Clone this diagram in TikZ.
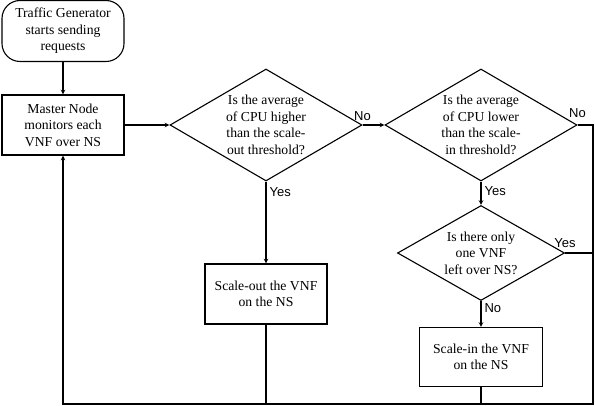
\documentclass[tikz,border=0pt]{standalone}
\usepackage{fontspec}
\setmainfont{Liberation Serif}
\newfontfamily\labelfont{Liberation Sans}
\usepackage{tikz}
\usetikzlibrary{shapes.geometric, arrows}
\tikzstyle{startstop} = [rectangle, rounded corners=18pt, minimum width=122pt, minimum height=61pt, text centered, align=center, draw=black, line width=1.1pt, font=\fontsize{13.7}{16.5}\selectfont]
\tikzstyle{process} = [rectangle, minimum width=122pt, minimum height=60pt, text centered, align=center, draw=black, line width=1.1pt, font=\fontsize{13.7}{16.5}\selectfont]
\tikzstyle{decision} = [diamond, aspect=1.71, inner sep=0pt, minimum width=192pt, minimum height=112pt, text centered, align=center, draw=black, line width=1.1pt, font=\fontsize{13.7}{16.5}\selectfont]
\tikzstyle{smalldecision} = [decision, aspect=1.76, minimum width=167pt, minimum height=95pt]
\tikzstyle{arrow} = [line width=1.1pt,->,>=stealth]
\tikzstyle{line} = [line width=1.1pt]
\tikzstyle{answer} = [font=\labelfont\fontsize{13}{15}\selectfont, inner sep=3pt]

\begin{document}
\begin{tikzpicture}[node distance=94pt]
    \useasboundingbox (0,0) rectangle (595pt,-406pt);

    \node (start) [startstop] at (63pt,-31pt) {Traffic Generator\\starts sending\\requests};
    \node (monitor) [process, below of=start] {Master Node\\monitors each\\VNF over NS};
    \node (scaleup) [decision, right of=monitor, xshift=109pt] {Is the average\\of CPU higher\\than the scale-\\out threshold?};
    \node (scaledown) [decision, right of=scaleup, xshift=121pt] {Is the average\\of CPU lower\\than the scale-\\in threshold?};
    \node (scaleout) [process, below of=scaleup, yshift=-75pt] {Scale-out the VNF\\on the NS};
    \node (onlyone) [smalldecision, below of=scaledown, yshift=-34pt] {Is there only\\one VNF\\left over NS?};
    \node (scalein) [process, below of=onlyone, yshift=-10pt, minimum width=123pt, minimum height=59pt] {Scale-in the VNF\\on the NS};
    \coordinate (corner) at (593pt,-404pt);

    \draw [arrow] (start) -- (monitor);
    \draw [arrow] (monitor) -- (scaleup);
    \draw [arrow] (scaleup) -- node[answer, pos=0, above, yshift=1pt] {No} (scaledown);
    \draw [arrow] (scaleup) -- node[answer, pos=0.13, right] {Yes} (scaleout);
    \draw [arrow] (scaledown) -- node[answer, pos=0.4, right] {Yes} (onlyone);
    \draw [arrow] (onlyone) -- node[answer, pos=0.29, right] {No} (scalein);
    \draw [arrow] (scaledown.east) node[answer, above, yshift=4pt] {No} -| (corner) -| (monitor.south);
    \draw [line] (onlyone.east) node[answer, above, yshift=2pt] {Yes} -- (onlyone.east -| corner);
    \draw [line] (scaleout.south) -- (scaleout.south |- corner);
    \draw [line] (scalein.south) -- (scalein.south |- corner);
\end{tikzpicture}
\end{document}
